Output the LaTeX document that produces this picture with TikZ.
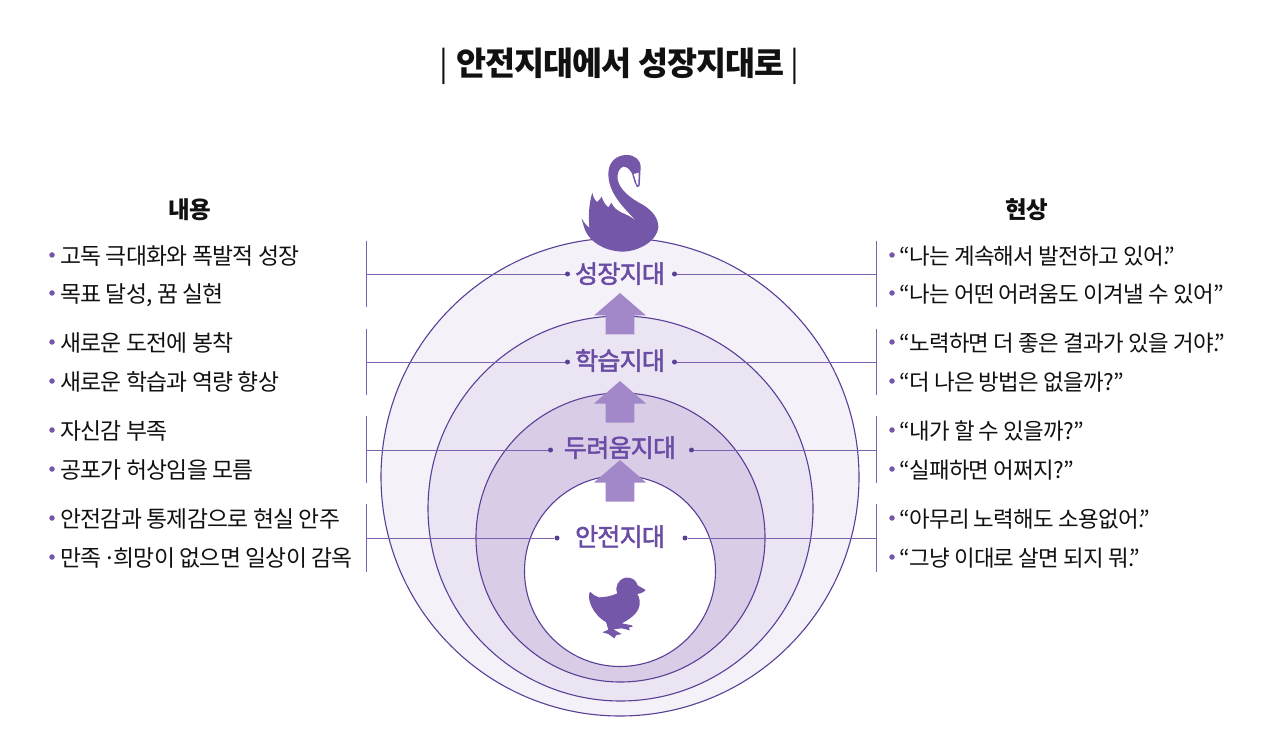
\documentclass[tikz,border=0pt]{standalone}
\usepackage{fontspec}
\setmainfont[LetterSpace=-3.0]{Noto Sans CJK KR}
\newfontfamily\medfont[FakeBold=2.0,LetterSpace=-3.0]{Noto Sans CJK KR}
\definecolor{ink}{HTML}{111111}
\definecolor{pstroke}{HTML}{5A3F96}
\definecolor{pline}{HTML}{7D60B0}
\definecolor{pfill}{HTML}{7557A9}
\definecolor{plabel}{HTML}{6A4CA4}
\definecolor{parrow}{HTML}{A288C8}
\definecolor{z1}{HTML}{F5F1F9}
\definecolor{z2}{HTML}{EBE5F3}
\definecolor{z3}{HTML}{D9CCE7}
\tikzset{
  zone/.style={draw=pstroke,line width=1.1pt},
  item/.style={anchor=base west,inner sep=0pt,text=ink,font=\fontsize{22.8}{25}\selectfont},
  ritem/.style={item,font=\fontsize{22.4}{25}\selectfont},
  head/.style={anchor=base,inner sep=0pt,text=ink,font=\fontsize{23.5}{26}\selectfont\bfseries},
  zonelabel/.style={anchor=base,inner sep=0pt,text=plabel,font=\fontsize{25}{27}\medfont},
  bullet/.style={circle,fill=pfill,inner sep=0pt,minimum size=5.5pt},
  enddot/.style={circle,fill=pstroke,inner sep=0pt,minimum size=5pt},
  link/.style={draw=pline,line width=0.9pt},
  upshape/.style={fill=parrow},
}
\newcommand{\upmark}[1]{\fill[upshape,shift={(620,#1)}] (0,0) -- (26,22.5) -- (14.3,22.5) -- (14.3,41.5) -- (-14.3,41.5) -- (-14.3,22.5) -- (-26,22.5) -- cycle;}
\newcommand{\leftitem}[3]{\node[bullet] (#1b) at (52,#2) {}; \node[item] (#1) at (60,#2+9.5) {#3};}
\newcommand{\rightitem}[3]{\node[bullet] (#1b) at (892,#2) {}; \node[ritem] (#1) at (899,#2+9.5) {#3};}
\newcommand{\cq}{\kern-0.24em”}
\begin{document}
\begin{tikzpicture}[x=1pt,y=-1pt]
\useasboundingbox (0,0) rectangle (1280,743);
\fill[white] (0,0) rectangle (1280,743);
% zones
\draw[zone,fill=z1] (620,477) circle[radius=239];
\draw[zone,fill=z2] (620.5,508.5) circle[radius=192.5];
\draw[zone,fill=z3] (620.5,537.5) circle[radius=144.5];
\draw[zone,fill=white] (620,571) circle[radius=95.5];
% arrows
\upmark{293}
\upmark{381}
\upmark{460}
% swan
\begin{scope}[shift={(575,150)},x=0.3333pt,y=-0.3333pt]
\fill[pfill] (20,205) .. controls (27,218) and (35,228) .. (43,233)
  .. controls (40,195) and (42,160) .. (52,128)
  .. controls (54,140) and (59,150) .. (66,156)
  .. controls (71,152) and (76,147) .. (80,140)
  .. controls (84,155) and (92,165) .. (100,172)
  .. controls (103,168) and (106,164) .. (109,158)
  .. controls (115,172) and (125,180) .. (140,188)
  .. controls (165,198) and (182,208) .. (191,224)
  .. controls (175,195) and (100,145) .. (100,72)
  .. controls (100,35) and (125,15) .. (155,15)
  .. controls (180,15) and (197,30) .. (197,52)
  -- (194,108) -- (186,112) -- (178,95) -- (171,70)
  .. controls (163,57) and (155,50) .. (146,50)
  .. controls (133,52) and (126,68) .. (128,88)
  .. controls (133,118) and (165,145) .. (205,165)
  .. controls (235,185) and (250,205) .. (250,232)
  .. controls (247,270) and (195,305) .. (140,305)
  .. controls (85,302) and (45,275) .. (30,240)
  .. controls (26,228) and (22,215) .. (20,205) -- cycle;
\fill[white] (176,72) -- (191,68) -- (190,104) -- (186,104) -- cycle;
\end{scope}
% duck
\begin{scope}[shift={(580,570)},x=0.3333pt,y=-0.3333pt]
\fill[pfill] (30,65) .. controls (38,72) and (46,80) .. (57,82)
  .. controls (75,82) and (95,78) .. (112,70)
  .. controls (103,50) and (115,27) .. (138,23)
  .. controls (155,21) and (168,30) .. (173,46)
  -- (197,60) .. controls (193,66) and (183,70) .. (172,72)
  .. controls (180,85) and (182,100) .. (176,115)
  .. controls (168,135) and (145,150) .. (125,160)
  -- (155,166) -- (158,170) -- (146,173) -- (150,181) -- (125,175) -- (100,178)
  -- (125,192) -- (108,196) -- (103,205) -- (85,192) -- (67,187) -- (85,179) -- (78,156)
  .. controls (55,145) and (27,110) .. (27,80)
  .. controls (27,74) and (28,69) .. (30,65) -- cycle;
\end{scope}
% title and headers
\node[anchor=base,inner sep=0pt,text=ink,font=\fontsize{32.6}{35}\selectfont\bfseries] (title) at (619.5,76) {{\normalfont|}\kern0.05em{} 안전지대에서 성장지대로 {\normalfont|}};
\node[head] (hl) at (189.5,219) {내용};
\node[head] (hr) at (1026.5,219) {현상};
% zone labels
\node[zonelabel] (z4) at (620,283) {성장지대};
\node[zonelabel] (z3l) at (620,370) {학습지대};
\node[zonelabel] (z2l) at (620,457) {두려움지대};
\node[zonelabel] (z1l) at (620,546) {안전지대};
% dots
\node[enddot] (d4l) at (567.5,274) {}; \node[enddot] (d4r) at (674.5,274) {};
\node[enddot] (d3l) at (567.5,362) {}; \node[enddot] (d3r) at (674.5,362) {};
\node[enddot] (d2l) at (550.5,450) {}; \node[enddot] (d2r) at (691.5,450) {};
\node[enddot] (d1l) at (557,538) {}; \node[enddot] (d1r) at (685,538) {};
% brackets
\foreach \n/\t/\m/\b in {4/241/274/307,3/329/362/395,2/416/450/483,1/504/538/572}{
  \coordinate (bl\n t) at (366,\t); \coordinate (bl\n m) at (366,\m); \coordinate (bl\n b) at (366,\b);
  \coordinate (br\n t) at (876,\t); \coordinate (br\n m) at (876,\m); \coordinate (br\n b) at (876,\b);
  \draw[link] (bl\n t) -- (bl\n b);
  \draw[link] (br\n t) -- (br\n b);
  \draw[link] (bl\n m) -- (d\n l);
  \draw[link] (br\n m) -- (d\n r);
}
% left items
\leftitem{la}{255}{고독 극대화와 폭발적 성장}
\leftitem{lb}{293}{목표 달성, 꿈 실현}
\leftitem{lc}{342}{새로운 도전에 봉착}
\leftitem{ld}{381}{새로운 학습과 역량 향상}
\leftitem{le}{430}{자신감 부족}
\leftitem{lf}{469}{공포가 허상임을 모름}
\leftitem{lg}{518}{안전감과 통제감으로 현실 안주}
\leftitem{lh}{557}{만족\kern-0.1em{} ·\kern-0.12em희망이 없으면 일상이 감옥}
% right items
\rightitem{ra}{255}{“나는 계속해서 발전하고 있어.\cq}
\rightitem{rb}{293}{“나는 어떤 어려움도 이겨낼 수 있어”}
\rightitem{rc}{342}{“노력하면 더 좋은 결과가 있을 거야.\cq}
\rightitem{rd}{381}{“더 나은 방법은 없을까?”}
\rightitem{re}{430}{“내가 할 수 있을까?”}
\rightitem{rf}{469}{“실패하면 어쩌지?”}
\rightitem{rg}{518}{“아무리 노력해도 소용없어.\cq}
\rightitem{rh}{557}{“그냥 이대로 살면 되지 뭐.\cq}
\end{tikzpicture}
\end{document}
